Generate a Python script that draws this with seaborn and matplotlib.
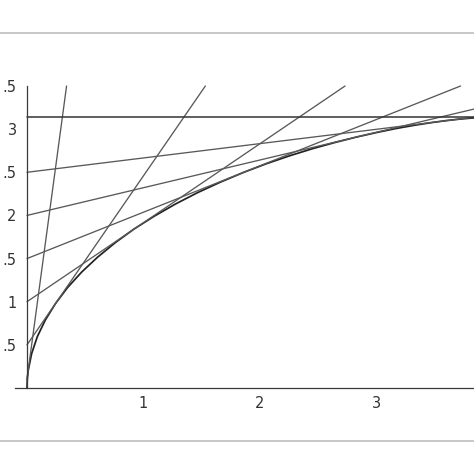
import numpy as np
import pandas as pd
import matplotlib
matplotlib.use("Agg")
import matplotlib.pyplot as plt
from matplotlib.lines import Line2D
from matplotlib.ticker import FixedLocator
import seaborn as sns

# curve points
curve_x = [0.0, 0.0025, 0.010, 0.040, 0.089, 0.158, 0.245, 0.349, 0.470, 0.607,
           0.757, 0.919, 1.093, 1.275, 1.465, 1.660, 1.859, 2.058, 2.258, 2.454,
           2.647, 2.832, 3.010, 3.177, 3.333, 3.475, 3.602, 3.714, 3.808, 3.884]
curve_y = [0.0, 0.100, 0.200, 0.399, 0.596, 0.789, 0.979, 1.165, 1.344, 1.517,
           1.683, 1.842, 1.991, 2.132, 2.264, 2.385, 2.498, 2.600, 2.692, 2.774,
           2.846, 2.909, 2.963, 3.009, 3.046, 3.076, 3.099, 3.116, 3.127, 3.135]

# tangent lines: where they leave the y axis and how steep they are
line_intercepts = [0.1, 0.5, 1.0, 1.5, 2.0, 2.5]
line_slopes = [10.0, 1.958, 0.915, 0.537, 0.321, 0.166]
top_line = 3.1416

# the left edge of the picture cuts the leading digit off the half values
y_ticks = [0.5, 1, 1.5, 2, 2.5, 3, 3.5]
y_labels = [".5", "1", ".5", "2", ".5", "3", ".5"]
x_ticks = [1, 2, 3]
x_labels = ["1", "2", "3"]

sns.set_style("white")
plt.rcParams["font.family"] = ["DejaVu Sans"]

W = 474
fig = plt.figure(figsize=(W / 100, W / 100), dpi=100)
x0, x1 = -0.103, 3.84
ax = fig.add_axes([15 / W, (W - 388) / W, 1 - 15 / W, (388 - 86) / W])
ax.set_xlim(x0, x1)
ax.set_ylim(0, 3.5)

ink = "#3a3a3a"

sns.lineplot(x=curve_x, y=curve_y, sort=False, estimator=None, ax=ax,
             color="#222222", linewidth=1.25, clip_on=False)

for b, m in zip(line_intercepts, line_slopes):
    xe = min((3.5 - b) / m, x1)
    seg = pd.DataFrame({"x": [0, xe], "y": [b, b + m * xe]})
    sns.lineplot(data=seg, x="x", y="y", ax=ax, color="#595959",
                 linewidth=0.95, clip_on=False)

seg = pd.DataFrame({"x": [0, x1], "y": [top_line, top_line]})
sns.lineplot(data=seg, x="x", y="y", ax=ax, color="#333333", linewidth=1.1)

# mathematica-style axes crossing at the origin
for s in ["top", "right"]:
    ax.spines[s].set_visible(False)
ax.spines["left"].set_position(("data", 0))
ax.spines["left"].set_bounds(0, 3.5)
for s in ["left", "bottom"]:
    ax.spines[s].set_color(ink)
    ax.spines[s].set_linewidth(0.9)

ax.xaxis.set_major_locator(FixedLocator(x_ticks))
ax.set_xticklabels(x_labels)
ax.xaxis.set_minor_locator(FixedLocator([v / 5 for v in range(1, 20) if v % 5]))
ax.yaxis.set_major_locator(FixedLocator(y_ticks))
ax.set_yticklabels(y_labels)
ax.yaxis.set_minor_locator(FixedLocator([v / 10 for v in range(1, 35) if v % 5]))
ax.tick_params(which="both", direction="in", color=ink, width=0.8,
               labelsize=10.5, labelcolor="#333333")
ax.tick_params(which="major", length=3.5)
ax.tick_params(which="minor", length=2)
ax.tick_params(axis="y", which="major", pad=7.5)
ax.tick_params(axis="x", which="major", pad=6)
ax.set_xlabel("")
ax.set_ylabel("")

# thin grey rules above and below the plot
for yf in [1 - 33 / W, 1 - 441 / W]:
    fig.add_artist(Line2D([0, 1], [yf, yf], transform=fig.transFigure,
                          color="#c4c4c4", linewidth=1.3))

fig.savefig("out.png", dpi=100)
